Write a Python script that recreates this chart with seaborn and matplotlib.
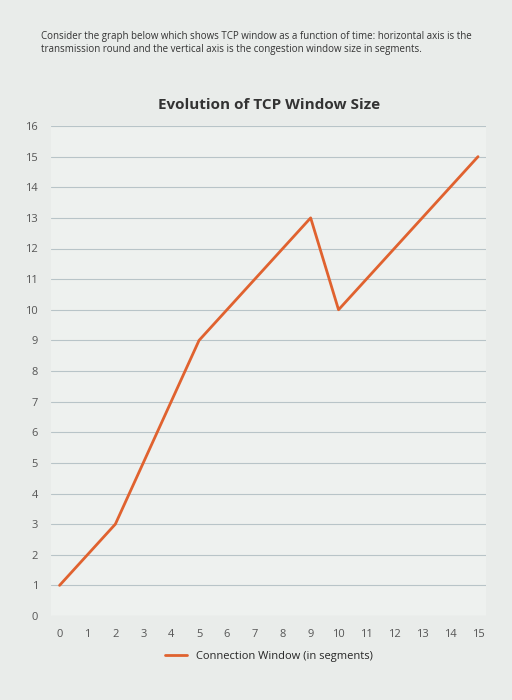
import seaborn as sns
import matplotlib.pyplot as plt
import pandas as pd

sns.set_theme(style="white")
plt.rcParams['font.family'] = ['Open Sans', 'DejaVu Sans']

# vertices of the congestion window curve
rounds = [0, 2, 3, 5, 9, 10, 15]
window = [1, 3, 5, 9, 13, 10, 15]
x_ticks = list(range(0, 16))
y_ticks = list(range(0, 17))

df = pd.DataFrame({'round': rounds, 'window': window})

fig = plt.figure(figsize=(5.12, 7), dpi=100)
fig.patch.set_facecolor('#e9ecea')
fig.text(0.08, 0.955, "Consider the graph below which shows TCP window as a function of time: horizontal axis is the\n"
         "transmission round and the vertical axis is the congestion window size in segments.",
         fontsize=7, va='top', color='#333333')

ax = fig.add_axes([0.1, 0.12, 0.85, 0.7])
ax.set_facecolor('#eef1ef')
sns.lineplot(data=df, x='round', y='window', ax=ax, color='#e0622f', linewidth=2,
             label='Connection Window (in segments)')
ax.set_xticks(x_ticks)
ax.set_yticks(y_ticks)
ax.set_xlim(-0.3, 15.3)
ax.set_ylim(0, 16)
ax.grid(axis='y', color='#b8c4c8', linewidth=0.8)
ax.tick_params(labelsize=8, colors='#555555')
ax.set_xlabel('')
ax.set_ylabel('')
for s in ax.spines.values():
    s.set_visible(False)
ax.set_title('Evolution of TCP Window Size', fontsize=11, fontweight='bold', color='#333333', pad=12)
ax.legend(loc='upper center', bbox_to_anchor=(0.5, -0.05), frameon=False, fontsize=8)

fig.savefig('out.png', dpi=100, facecolor=fig.get_facecolor())
